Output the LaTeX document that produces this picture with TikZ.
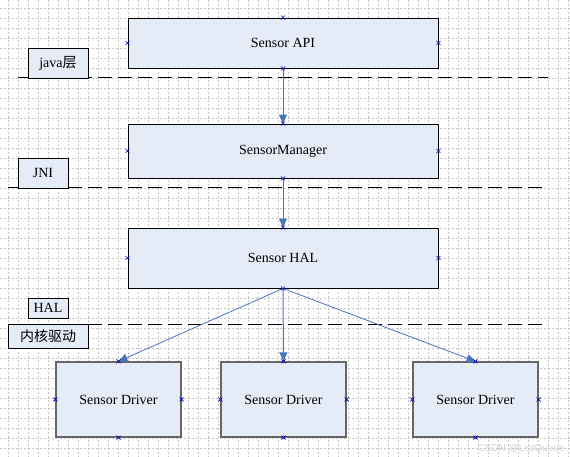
\documentclass[tikz,border=0pt]{standalone}
\usepackage{fontspec}
\setmainfont{Liberation Serif}
\newfontfamily\cjk{Noto Sans CJK SC}
\newfontfamily\wmfont{Liberation Sans}
\usetikzlibrary{arrows.meta}
\definecolor{boxfill}{HTML}{E6ECF7}
\definecolor{arrowblue}{HTML}{4A74C0}
\definecolor{markblue}{HTML}{0000CC}
\begin{document}
\begin{tikzpicture}[x=1pt,y=-1pt,
  gridline/.style={draw=gray!45,line width=0.6pt,dash pattern=on 2pt off 2pt},
  mainbox/.style={draw=black,line width=0.9pt,fill=boxfill,inner sep=0pt,
    font=\fontsize{14}{16}\selectfont},
  drvbox/.style={draw=black!60,line width=1.3pt,fill=boxfill,inner sep=0pt,
    font=\fontsize{14}{16}\selectfont},
  lblbox/.style={draw=black,line width=0.9pt,fill=boxfill,inner sep=0pt,
    font=\fontsize{14}{16}\selectfont},
  layerline/.style={draw=black,line width=1pt,dash pattern=on 14pt off 6pt},
  conn/.style={draw=arrowblue,line width=1pt,-{Triangle[length=9pt,width=8pt]}},
  dconn/.style={draw=arrowblue,line width=0.8pt,-{Triangle[length=9pt,width=8pt]}},
  xmark/.style={draw=markblue,line width=0.6pt}
]
\useasboundingbox (0,0) rectangle (570,457);
\fill[white] (0,0) rectangle (570,457);
\foreach \gx in {8,18,...,568} \draw[gridline] (\gx,0) -- (\gx,457);
\foreach \gy in {8,18,...,448} \draw[gridline] (0,\gy) -- (570,\gy);

% layer lines
\coordinate (l1a) at (18,78);  \coordinate (l1b) at (548,78);
\coordinate (l2a) at (8,188);  \coordinate (l2b) at (548,188);
\coordinate (l3a) at (8,324);  \coordinate (l3b) at (548,324);
\draw[layerline] (l1a) -- (l1b);
\draw[layerline] (l2a) -- (l2b);
\draw[layerline] (l3a) -- (l3b);

% main boxes
\node[mainbox,minimum width=310pt,minimum height=50pt] (api) at (283,43) {Sensor API};
\node[mainbox,minimum width=310pt,minimum height=54pt] (mgr) at (283,151) {SensorManager};
\node[mainbox,minimum width=310pt,minimum height=60pt] (hal) at (283,258) {Sensor HAL};
\node[drvbox,minimum width=125pt,minimum height=75pt] (d1) at (118.5,399.5) {Sensor Driver};
\node[drvbox,minimum width=125pt,minimum height=75pt] (d2) at (283.5,399.5) {Sensor Driver};
\node[drvbox,minimum width=125pt,minimum height=75pt] (d3) at (475.5,399.5) {Sensor Driver};

% layer labels
\node[lblbox,minimum width=60pt,minimum height=30pt] (ljava) at (58,63) {java{\cjk 层}};
\node[lblbox,minimum width=50pt,minimum height=30pt] (ljni) at (43,173) {JNI};
\node[lblbox,minimum width=40pt,minimum height=20pt] (lhal) at (48,308) {HAL};
\node[lblbox,minimum width=80pt,minimum height=24pt] (lkern) at (48,336) {{\cjk 内核驱动}};

% connectors
\draw[conn] (api.south) -- (mgr.north);
\draw[conn] (mgr.south) -- (hal.north);
\draw[dconn] (hal.south) -- (d1.north);
\draw[conn] (hal.south) -- (d2.north);
\draw[dconn] (hal.south) -- (d3.north);

% connection point markers
\foreach \n in {api,mgr,hal,d1,d2,d3}
  \foreach \a in {north,south,east,west}
    \draw[xmark] ([shift={(-2,-2)}]\n.\a) -- ([shift={(2,2)}]\n.\a)
                 ([shift={(-2,2)}]\n.\a) -- ([shift={(2,-2)}]\n.\a);

% watermark
\node[text=gray!35,font=\wmfont\fontsize{10}{10}\selectfont,inner sep=0pt] (wm) at (521,449) {CSDN @ListQueue};
\end{tikzpicture}
\end{document}
